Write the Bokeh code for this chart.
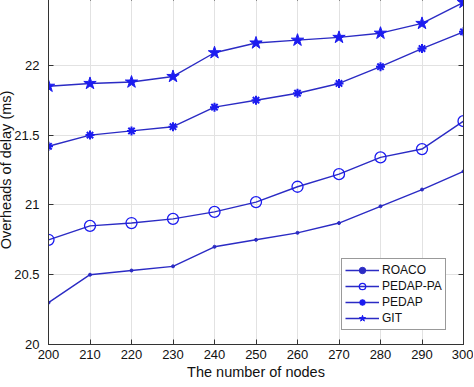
from bokeh.plotting import figure
from bokeh.models import LinearAxis, FixedTicker, Range1d, Legend
from bokeh.embed import file_html
from bokeh.resources import INLINE

nodes = [200, 210, 220, 230, 240, 250, 260, 270, 280, 290, 300]
roaco = [20.30, 20.50, 20.53, 20.56, 20.70, 20.75, 20.80, 20.87, 20.99, 21.11, 21.24]
pedap_pa = [20.75, 20.85, 20.87, 20.90, 20.95, 21.02, 21.13, 21.22, 21.34, 21.40, 21.60]
pedap = [21.42, 21.50, 21.53, 21.56, 21.70, 21.75, 21.80, 21.87, 21.99, 22.12, 22.24]
git = [21.85, 21.87, 21.88, 21.92, 22.09, 22.16, 22.18, 22.20, 22.23, 22.30, 22.45]

x_ticks = [200, 210, 220, 230, 240, 250, 260, 270, 280, 290, 300]
y_ticks = [20, 20.5, 21, 21.5, 22, 22.5]
y_tick_labels = ["20", "20.5", "21", "21.5", "22", "22.5"]
x_title = "The number of nodes"
y_title = "Overheads of delay (ms)"

FONT = "Liberation Sans"
BLUE = "#2b2bc4"
MARK = "#1c1cf0"
AX = "#333333"

p = figure(width=485, height=407, output_backend="svg", toolbar_location=None,
           x_range=Range1d(200, 300), y_range=Range1d(20, 22.5),
           min_border_left=60, min_border_right=10, min_border_top=20, min_border_bottom=38)
p.margin = (-25, -8, -11, -12)
p.background_fill_color = "white"
p.border_fill_color = "white"
p.outline_line_color = AX
p.outline_line_width = 1

l1 = p.line(nodes, roaco, line_color=BLUE, line_width=1.4)
s1 = p.scatter(nodes, roaco, marker="circle", size=3, fill_color=BLUE, line_color=BLUE)
l2 = p.line(nodes, pedap_pa, line_color=BLUE, line_width=1.4)
s2 = p.scatter(nodes, pedap_pa, marker="circle", size=11, fill_color=None, line_color=MARK, line_width=1.3)
l3 = p.line(nodes, pedap, line_color=BLUE, line_width=1.4)
s3 = p.scatter(nodes, pedap, marker="asterisk", size=9, line_color=MARK, line_width=2)
l4 = p.line(nodes, git, line_color=BLUE, line_width=1.4)
s4 = p.scatter(nodes, git, marker="star", size=13, fill_color=MARK, line_color=MARK, line_width=1)

legend = Legend(items=[("ROACO", [l1, s1]), ("PEDAP-PA", [l2, s2]),
                       ("PEDAP", [l3, s3]), ("GIT", [l4, s4])],
                location=(293, 14))
legend.label_text_font = FONT
legend.label_text_font_size = "12px"
legend.label_text_color = "#111111"
legend.glyph_width = 34
legend.glyph_height = 16
legend.label_height = 16
legend.spacing = 0
legend.padding = 3
legend.margin = 0
legend.label_standoff = 3
legend.border_line_color = AX
legend.border_line_width = 1
legend.background_fill_alpha = 1
p.add_layout(legend, "center")

for ax in [p.xaxis[0], p.yaxis[0]]:
    ax.axis_line_color = AX
    ax.major_tick_line_color = AX
    ax.major_tick_in = 5
    ax.major_tick_out = 0
    ax.minor_tick_line_color = None
    ax.major_label_text_font = FONT
    ax.major_label_text_font_size = "13px"
    ax.major_label_text_color = "#111111"
    ax.axis_label_text_font = FONT
    ax.axis_label_text_font_size = "14.5px"
    ax.axis_label_text_font_style = "normal"
    ax.axis_label_text_color = "#111111"

p.xaxis[0].ticker = FixedTicker(ticks=x_ticks)
p.yaxis[0].ticker = FixedTicker(ticks=y_ticks)
p.yaxis[0].major_label_overrides = {t: l for t, l in zip(y_ticks, y_tick_labels)}
p.xaxis[0].axis_label = x_title
p.yaxis[0].axis_label = y_title
p.xaxis[0].major_label_standoff = 5
p.xaxis[0].axis_label_standoff = 2
p.yaxis[0].major_label_standoff = 9
p.yaxis[0].axis_label_standoff = -3

top = LinearAxis(ticker=FixedTicker(ticks=x_ticks), major_label_text_font_size="0px",
                 major_label_text_color=None, major_label_standoff=0, axis_label_standoff=0,
                 major_tick_in=5, major_tick_out=0, minor_tick_line_color=None,
                 axis_line_color=AX, major_tick_line_color=AX)
right = LinearAxis(ticker=FixedTicker(ticks=y_ticks), major_label_text_font_size="0px",
                   major_label_text_color=None, major_label_standoff=0, axis_label_standoff=0,
                   major_tick_in=5, major_tick_out=0, minor_tick_line_color=None,
                   axis_line_color=AX, major_tick_line_color=AX)
p.add_layout(top, "above")
p.add_layout(right, "right")

p.xgrid[0].ticker = FixedTicker(ticks=x_ticks)
p.ygrid[0].ticker = FixedTicker(ticks=y_ticks)
p.grid.grid_line_color = "#e2e2e2"
p.grid.grid_line_width = 1

open("out.html", "w").write(file_html(p, INLINE))
